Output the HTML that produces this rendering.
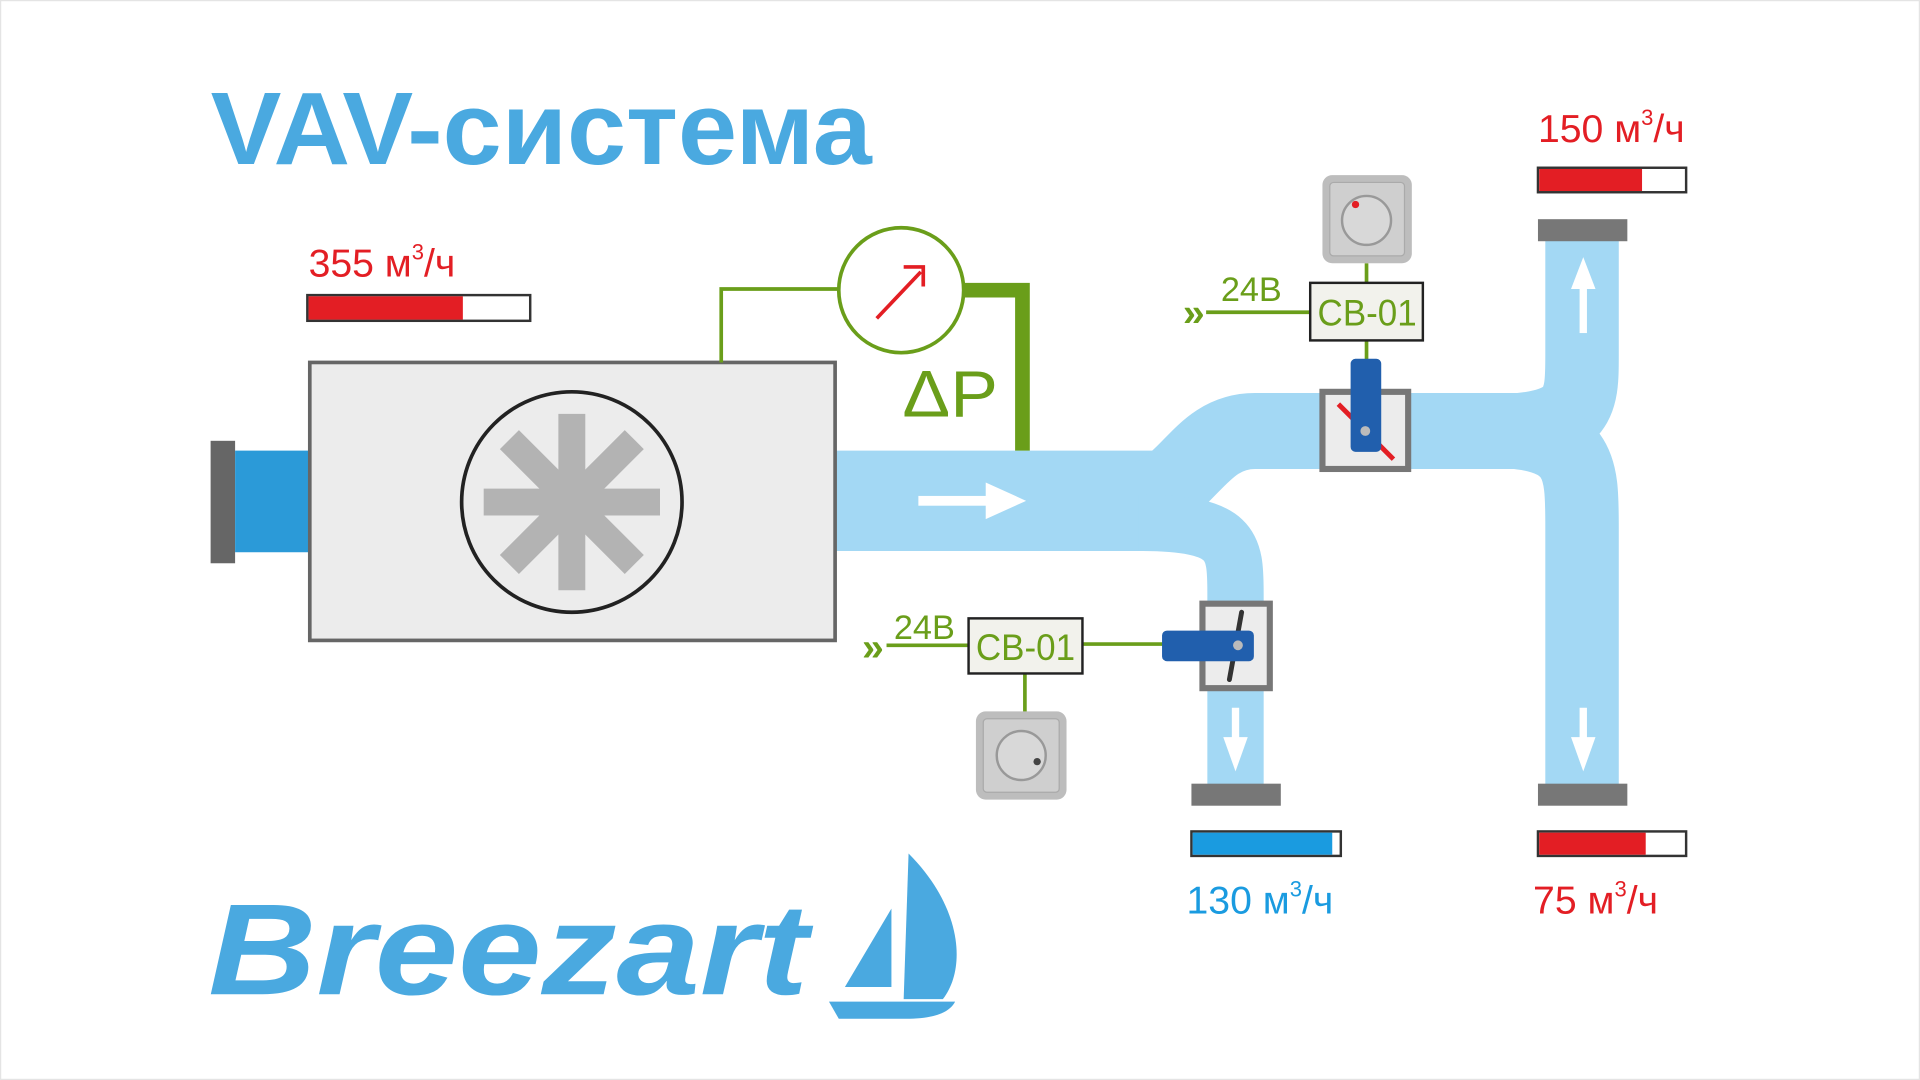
<!DOCTYPE html>
<html><head><meta charset="utf-8"><style>
html,body{margin:0;padding:0;background:#fff;width:1920px;height:1080px;overflow:hidden}
svg{display:block}
text{font-family:"Liberation Sans",sans-serif}
</style></head><body>
<svg width="1920" height="1080" viewBox="0 0 1568 882" preserveAspectRatio="none" xmlns="http://www.w3.org/2000/svg">
<rect x="0" y="0" width="1568" height="882" fill="#fff" stroke="#e4e4e4" stroke-width="2"/>
<!-- ducts -->
<g fill="none" stroke="#a3d8f4" stroke-linecap="butt">
<path d="M680 409 L975 409" stroke-width="82"/>
<path d="M920 409 C970 409 975 352 1025 352 L1240 352" stroke-width="62"/>
<path d="M1215 352 C1292 352 1292 330 1292 290 L1292 196" stroke-width="60"/>
<path d="M1215 352 C1292 352 1292 380 1292 430 L1292 642" stroke-width="60"/>
<path d="M930 427 C1008 427 1009 445 1009 485 L1009 642" stroke-width="46"/>
</g>
<rect x="1210" y="321" width="50" height="62" fill="#a3d8f4"/>
<!-- title -->
<text x="172" y="134" font-size="84" font-weight="bold" fill="#4aa9e0" textLength="540" lengthAdjust="spacingAndGlyphs">VAV-система</text>
<!-- left flange -->
<rect x="172" y="360" width="20" height="100" fill="#666"/>
<rect x="192" y="368" width="62" height="83" fill="#2b9ad8"/>
<!-- unit -->
<rect x="253" y="296" width="429" height="227" fill="#ececec" stroke="#666" stroke-width="3"/>
<circle cx="467" cy="410" r="90" fill="#ececec" stroke="#222" stroke-width="3"/>
<g stroke="#b3b3b3" stroke-width="22">
<line x1="395" y1="410" x2="539" y2="410"/><line x1="467" y1="338" x2="467" y2="482"/>
<line x1="416" y1="359" x2="518" y2="461"/><line x1="518" y1="359" x2="416" y2="461"/>
</g>
<!-- pressure -->
<polyline points="589,296 589,236 686,236" fill="none" stroke="#6a9e1a" stroke-width="3"/>
<polyline points="786,237 835,237 835,368" fill="none" stroke="#6a9e1a" stroke-width="12"/>
<circle cx="736" cy="237" r="51" fill="#fff" stroke="#6a9e1a" stroke-width="3"/>
<line x1="716" y1="260" x2="752" y2="222" stroke="#e31e24" stroke-width="3"/>
<polyline points="738,218 754,218 754,234" fill="none" stroke="#e31e24" stroke-width="3"/>
<text x="737" y="340" font-size="54" fill="#6a9e1a" textLength="78" lengthAdjust="spacingAndGlyphs">ΔP</text>
<!-- arrows -->
<g fill="#fff">
<rect x="750" y="405" width="60" height="8"/><polygon points="805,394 838,409 805,424"/>
<rect x="1290" y="230" width="6" height="42"/><polygon points="1283,236 1293,210 1303,236"/>
<rect x="1290" y="578" width="6" height="30"/><polygon points="1283,602 1293,630 1303,602"/>
<rect x="1006" y="578" width="6" height="30"/><polygon points="999,602 1009,630 1019,602"/>
</g>
<!-- caps -->
<rect x="1256" y="179" width="73" height="18" fill="#777"/>
<rect x="973" y="640" width="73" height="18" fill="#777"/>
<rect x="1256" y="640" width="73" height="18" fill="#777"/>
<!-- bars -->
<rect x="251" y="241" width="182" height="21" fill="#fff" stroke="#333" stroke-width="2"/><rect x="252" y="242" width="126" height="19" fill="#e31e24"/>
<rect x="1256" y="137" width="121" height="20" fill="#fff" stroke="#333" stroke-width="2"/><rect x="1257" y="138" width="84" height="18" fill="#e31e24"/>
<rect x="973" y="679" width="122" height="20" fill="#fff" stroke="#333" stroke-width="2"/><rect x="974" y="680" width="114" height="18" fill="#1a9be0"/>
<rect x="1256" y="679" width="121" height="20" fill="#fff" stroke="#333" stroke-width="2"/><rect x="1257" y="680" width="87" height="18" fill="#e31e24"/>
<g font-size="32" fill="#e31e24">
<text x="252" y="226">355 м<tspan font-size="18" dy="-14">3</tspan><tspan dy="14">/ч</tspan></text>
<text x="1256" y="116">150 м<tspan font-size="18" dy="-14">3</tspan><tspan dy="14">/ч</tspan></text>
<text x="1252" y="746">75 м<tspan font-size="18" dy="-14">3</tspan><tspan dy="14">/ч</tspan></text>
</g>
<text x="969" y="746" font-size="32" fill="#1a9be0">130 м<tspan font-size="18" dy="-14">3</tspan><tspan dy="14">/ч</tspan></text>
<!-- upper damper -->
<line x1="1116" y1="215" x2="1116" y2="295" stroke="#6a9e1a" stroke-width="3"/>
<rect x="1080" y="320" width="70" height="63" fill="#ececec" stroke="#777" stroke-width="5"/>
<line x1="1093" y1="330" x2="1138" y2="375" stroke="#e31e24" stroke-width="4"/>
<rect x="1103" y="293" width="25" height="76" rx="4" fill="#215fad"/>
<circle cx="1115" cy="352" r="4" fill="#bbb"/>
<!-- lower damper -->
<line x1="884" y1="526" x2="952" y2="526" stroke="#6a9e1a" stroke-width="3"/>
<line x1="837" y1="550" x2="837" y2="583" stroke="#6a9e1a" stroke-width="3"/>
<rect x="982" y="493" width="55" height="69" fill="#ececec" stroke="#777" stroke-width="5"/>
<line x1="1014" y1="500" x2="1004" y2="555" stroke="#333" stroke-width="4" stroke-linecap="round"/>
<rect x="949" y="515" width="75" height="25" rx="4" fill="#215fad"/>
<circle cx="1011" cy="527" r="4" fill="#bbb"/>
<!-- CB boxes -->
<g stroke="#6a9e1a" stroke-width="3"><line x1="985" y1="255" x2="1070" y2="255"/><line x1="724" y1="527" x2="791" y2="527"/></g>
<rect x="1070" y="231" width="92" height="47" fill="#f2f2ec" stroke="#222" stroke-width="2"/>
<rect x="791" y="505" width="93" height="45" fill="#f2f2ec" stroke="#222" stroke-width="2"/>
<g fill="#6a9e1a">
<text x="1076" y="266" font-size="30" textLength="81" lengthAdjust="spacingAndGlyphs">СВ-01</text>
<text x="797" y="539" font-size="30" textLength="81" lengthAdjust="spacingAndGlyphs">СВ-01</text>
<text x="997" y="246" font-size="28">24В</text>
<text x="730" y="522" font-size="28">24В</text>
<text x="966" y="266" font-size="32" font-weight="bold">»</text>
<text x="704" y="539" font-size="32" font-weight="bold">»</text>
</g>
<!-- thermostats -->
<g>
<rect x="1080" y="143" width="73" height="72" rx="8" fill="#bdbdbd"/>
<rect x="1086" y="149" width="61" height="60" rx="3" fill="#cfcfcf" stroke="#aaa"/>
<circle cx="1116" cy="180" r="20" fill="#d8d8d8" stroke="#999" stroke-width="2"/>
<circle cx="1107" cy="167" r="3" fill="#e31e24"/>
<rect x="797" y="581" width="74" height="72" rx="8" fill="#bdbdbd"/>
<rect x="803" y="587" width="62" height="60" rx="3" fill="#cfcfcf" stroke="#aaa"/>
<circle cx="834" cy="617" r="20" fill="#d8d8d8" stroke="#999" stroke-width="2"/>
<circle cx="847" cy="622" r="3" fill="#444"/>
</g>
<!-- logo -->
<text x="170" y="812" font-size="106" font-weight="bold" font-style="italic" fill="#4aa9e0" textLength="490" lengthAdjust="spacingAndGlyphs">Breezart</text>
<path d="M742 697 C785 740 790 790 770 816 L738 816 Z" fill="#4aa9e0"/>
<path d="M728 742 L728 806 L690 806 Z" fill="#4aa9e0"/>
<path d="M677 818 L780 818 C775 828 760 832 740 832 L685 832 Z" fill="#4aa9e0"/>
</svg>
</body></html>
